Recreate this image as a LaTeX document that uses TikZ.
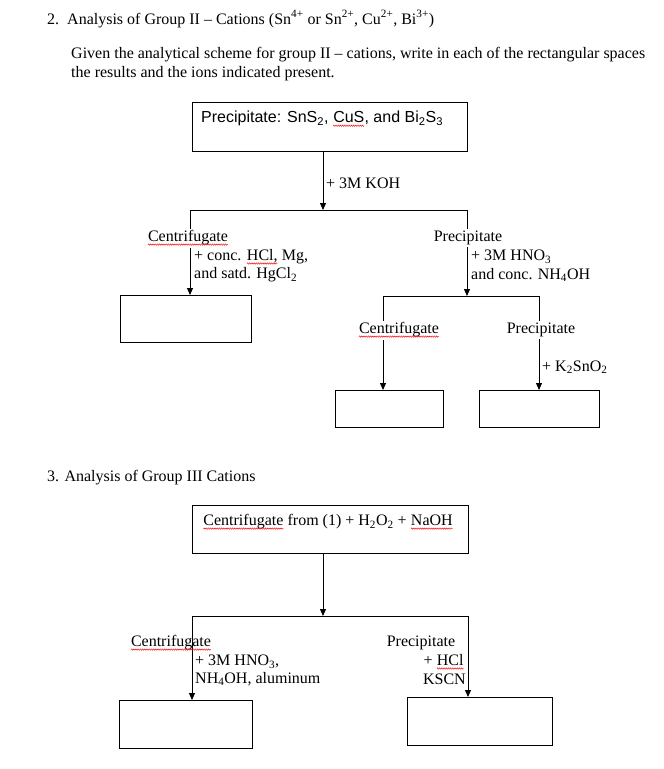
\documentclass[tikz,border=0pt]{standalone}
\usepackage{fontspec}
\setmainfont{Liberation Serif}
\newfontfamily\arialfont{Liberation Sans}
\usetikzlibrary{arrows.meta, decorations.pathmorphing}
\newcommand\spellmark[1]{\tikz[baseline=(w.base)]{\node[inner sep=0pt, outer sep=0pt] (w) {#1};
    \draw[red, line width=0.45pt, decorate, decoration={zigzag, amplitude=0.7pt, segment length=2.2pt}]
        ([yshift=-2.8pt]w.base west) -- ([yshift=-2.8pt]w.base east);}}
\tikzset{
    txt/.style   = {font=\fontsize{16}{19}\selectfont, inner sep=0pt},
    gap/.style   = {txt, fill=white, inner sep=2pt},
    box/.style   = {draw, line width=0.9pt, anchor=north west, inner sep=0pt},
    link/.style  = {line width=0.9pt},
    arrow/.style = {link, -{Triangle[length=7pt, width=6pt]}}
}
\begin{document}
\begin{tikzpicture}[x=1pt, y=-1pt]
    \useasboundingbox (0,0) rectangle (664,769);

    \node [txt, anchor=west] (head2) at (47,19)  {2.\enspace Analysis of Group II -- Cations (Sn\textsuperscript{4+} or Sn\textsuperscript{2+}, Cu\textsuperscript{2+}, Bi\textsuperscript{3+})};
    \node [txt, anchor=west] (task1) at (71,55)  {Given the analytical scheme for group II -- cations, write in each of the rectangular spaces};
    \node [txt, anchor=west] (task2) at (71,74)  {the results and the ions indicated present.};

    \node [box, minimum width=275, minimum height=49] (sulfides) at (192,102) {};
    \node [txt, anchor=west, font=\arialfont\fontsize{16}{19}\selectfont] (sulfidesTxt) at (201,119)
        {Precipitate: SnS\textsubscript{2}, \spellmark{CuS}, and Bi\textsubscript{2}S\textsubscript{3}};

    \node [box, minimum width=131, minimum height=47] (tinBox)   at (120,295) {};
    \node [box, minimum width=108, minimum height=37] (bisBox)   at (335,390) {};
    \node [box, minimum width=120, minimum height=37] (cuBox)    at (479,390) {};

    \coordinate (kohSplit) at (323,210);
    \coordinate (kohL)     at (190,210);
    \coordinate (kohR)     at (467,210);
    \coordinate (nh3Split) at (467,296);
    \coordinate (nh3L)     at (383,296);
    \coordinate (nh3R)     at (539,296);

    \draw [arrow] (sulfides.south -| kohSplit) -- (kohSplit);
    \draw [link]  (kohL) -- (kohR);
    \draw [arrow] (kohL) -- (tinBox.north -| kohL);
    \draw [arrow] (kohR) -- (nh3Split);
    \draw [link]  (nh3L) -- (nh3R);
    \draw [arrow] (nh3L) -- (bisBox.north -| nh3L);
    \draw [arrow] (nh3R) -- (cuBox.north -| nh3R);

    \node [txt, anchor=west] (kohTxt)  at (326,183) {+ 3M KOH};
    \node [gap]              (centA)   at (188,238) {\spellmark{Centrifugate}};
    \node [txt, anchor=west] (hclTxt1) at (194,257) {+ conc. \spellmark{HCl,} Mg,};
    \node [txt, anchor=west] (hclTxt2) at (194,275) {and satd. HgCl\textsubscript{2}};
    \node [gap]              (pptA)    at (468,238) {Precipitate};
    \node [txt, anchor=west] (hnoTxt1) at (471,257) {+ 3M HNO\textsubscript{3}};
    \node [txt, anchor=west] (hnoTxt2) at (471,275) {and conc. NH\textsubscript{4}OH};
    \node [gap]              (centB)   at (399,330) {\spellmark{Centrifugate}};
    \node [gap]              (pptB)    at (541,330) {Precipitate};
    \node [txt, anchor=west] (snoTxt)  at (542,367) {+ K\textsubscript{2}SnO\textsubscript{2}};

    \node [txt, anchor=west] (head3) at (47,478) {3. Analysis of Group III Cations};

    \node [box, minimum width=276, minimum height=48] (peroxide) at (192,505) {};
    \node [txt, anchor=west] (peroxideTxt) at (203,522)
        {\spellmark{Centrifugate} from (1) + H\textsubscript{2}O\textsubscript{2} + \spellmark{NaOH}};

    \node [box, minimum width=133, minimum height=48] (alBox) at (119,700) {};
    \node [box, minimum width=145, minimum height=48] (feBox) at (407,697) {};

    \coordinate (naSplit) at (323,616);
    \coordinate (naL)     at (192,616);
    \coordinate (naR)     at (468,616);

    \draw [arrow] (peroxide.south -| naSplit) -- (naSplit);
    \draw [link]  (naL) -- (naR);
    \draw [arrow] (naL) -- (alBox.north -| naL);
    \draw [arrow] (naR) -- (feBox.north -| naR);

    \node [txt]              (centC)  at (171,643) {\spellmark{Centrifugate}};
    \node [txt, anchor=west] (alTxt1) at (195,662) {+ 3M HNO\textsubscript{3},};
    \node [txt, anchor=west] (alTxt2) at (195,679) {NH\textsubscript{4}OH, aluminum};
    \node [txt]              (pptC)   at (421,643) {Precipitate};
    \node [txt, anchor=east] (feTxt1) at (464,662) {+ \spellmark{HCl}};
    \node [txt, anchor=east] (feTxt2) at (466,679) {KSCN};
\end{tikzpicture}
\end{document}
